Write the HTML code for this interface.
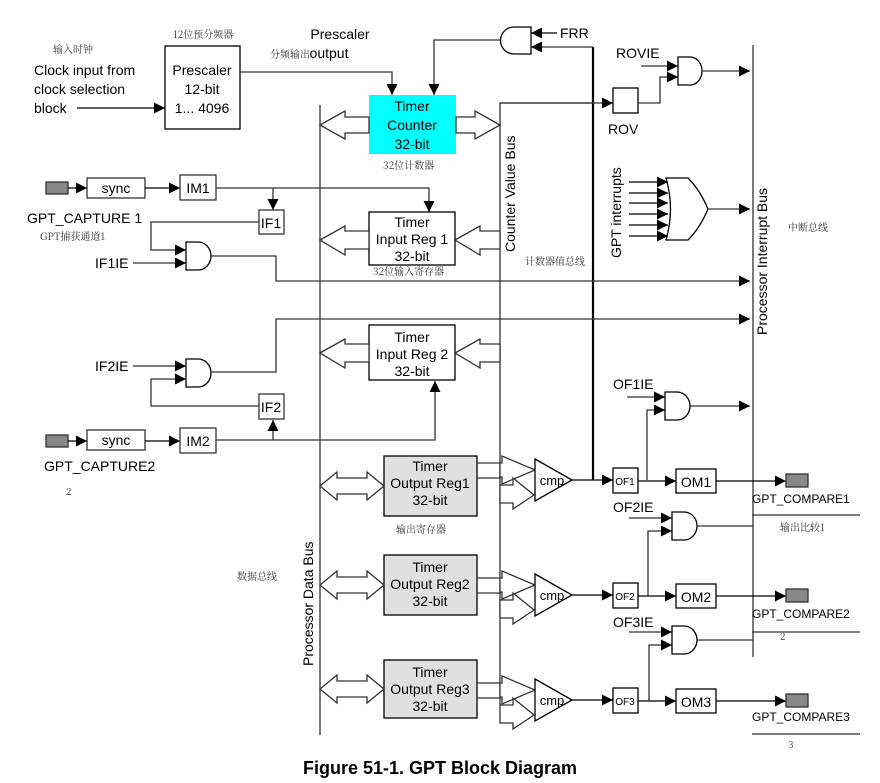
<!DOCTYPE html>
<html><head><meta charset="utf-8"><style>
html,body{margin:0;padding:0;background:#fff;}
svg{display:block;}
text{font-family:"Liberation Sans","Noto Sans CJK SC",sans-serif;fill:#000;}
.cn{font-family:"Noto Serif CJK SC","Noto Sans CJK SC",serif;font-size:10px;fill:#333;}
</style></head><body>
<svg width="880" height="783" viewBox="0 0 880 783" xmlns="http://www.w3.org/2000/svg">
<defs>
<marker id="b" viewBox="0 0 10 10" refX="10" refY="5" markerWidth="11" markerHeight="11" markerUnits="userSpaceOnUse" orient="auto"><path d="M0,0L10,5L0,10z" fill="#000"/></marker>
</defs>
<g fill="none" stroke="#333" stroke-width="1.3">
<line x1="320" y1="105" x2="320" y2="735"/>
<polyline points="500,705 500,103 593,103"/>
<line x1="593" y1="47" x2="593" y2="480" stroke="#000" stroke-width="2.2"/>
<line x1="753" y1="45" x2="753" y2="657"/>
<rect x="165" y="46" width="75" height="83" stroke="#000"/>
<line x1="77" y1="108" x2="165" y2="108" marker-end="url(#b)" stroke="#000"/>
<polyline points="240,72 392,72 392,95" marker-end="url(#b)"/>
<path d="M531,27 L514,27 A13.5,13.5 0 0 0 514,54 L531,54 Z" stroke="#000"/>
<line x1="557" y1="33" x2="531" y2="33" marker-end="url(#b)" stroke="#000"/>
<polyline points="593,47 531,47" marker-end="url(#b)"/>
<polyline points="500,40 434,40 434,95" marker-end="url(#b)"/>
<rect x="369" y="95" width="87" height="59" fill="#00ffff" stroke="none"/>
<polygon points="320,125 345,111 345,117 369,117 369,133 345,133 345,139" fill="#fff"/>
<polygon points="500,125 475,111 475,117 456,117 456,133 475,133 475,139" fill="#fff"/>
<rect x="46" y="182" width="22" height="12" fill="#888"/>
<line x1="68" y1="188" x2="87" y2="188" marker-end="url(#b)" stroke="#000"/>
<rect x="87" y="178" width="58" height="20"/>
<line x1="145" y1="188" x2="180" y2="188" marker-end="url(#b)" stroke="#000"/>
<rect x="180" y="175" width="36" height="25"/>
<polyline points="216,188 429,188 429,212" marker-end="url(#b)"/>
<line x1="273" y1="188" x2="273" y2="210" marker-end="url(#b)"/>
<rect x="259" y="210" width="25" height="24"/>
<polyline points="259,222 151,222 151,250 186,250" marker-end="url(#b)"/>
<line x1="133" y1="263" x2="186" y2="263" marker-end="url(#b)"/>
<path d="M186,242 L198,242 A13,14 0 0 1 198,270 L186,270 Z" stroke="#000"/>
<polyline points="211,256 276,256 276,281 750,281" marker-end="url(#b)"/>
<rect x="369" y="212" width="86" height="53" stroke="#000"/>
<polygon points="320,240 345,226 345,231 369,231 369,249 345,249 345,255" fill="#fff"/>
<polygon points="455,240 480,226 480,231 500,231 500,249 480,249 480,255" fill="#fff"/>
<rect x="369" y="325" width="86" height="55" stroke="#000"/>
<polygon points="320,353 345,339 345,344 369,344 369,362 345,362 345,368" fill="#fff"/>
<polygon points="455,353 480,339 480,344 500,344 500,362 480,362 480,368" fill="#fff"/>
<line x1="133" y1="366" x2="186" y2="366" marker-end="url(#b)"/>
<path d="M186,359 L198,359 A13,14 0 0 1 198,387 L186,387 Z" stroke="#000"/>
<polyline points="211,372 276,372 276,319 750,319" marker-end="url(#b)"/>
<rect x="259" y="394" width="25" height="25"/>
<polyline points="259,406 151,406 151,379 186,379" marker-end="url(#b)"/>
<rect x="46" y="435" width="22" height="12" fill="#888"/>
<line x1="68" y1="441" x2="87" y2="441" marker-end="url(#b)" stroke="#000"/>
<rect x="87" y="430" width="58" height="20"/>
<line x1="145" y1="441" x2="180" y2="441" marker-end="url(#b)" stroke="#000"/>
<rect x="180" y="428" width="36" height="25"/>
<polyline points="216,440 435,440 435,381" marker-end="url(#b)"/>
<line x1="273" y1="440" x2="273" y2="420" marker-end="url(#b)"/>
<polyline points="500,103 613,103" marker-end="url(#b)"/>
<rect x="613" y="88" width="25" height="25" stroke="#000"/>
<polyline points="638,103 660,103 660,77 678,77" marker-end="url(#b)"/>
<line x1="641" y1="66" x2="678" y2="66" marker-end="url(#b)"/>
<path d="M678,57 L690,57 A12,14 0 0 1 690,85 L678,85 Z" stroke="#000"/>
<line x1="702" y1="71" x2="750" y2="71" marker-end="url(#b)"/>
<g stroke="#000">
<line x1="629" y1="182" x2="668" y2="182" marker-end="url(#b)"/>
<line x1="629" y1="193" x2="668" y2="193" marker-end="url(#b)"/>
<line x1="629" y1="203" x2="668" y2="203" marker-end="url(#b)"/>
<line x1="629" y1="214" x2="668" y2="214" marker-end="url(#b)"/>
<line x1="629" y1="225" x2="668" y2="225" marker-end="url(#b)"/>
<line x1="629" y1="236" x2="668" y2="236" marker-end="url(#b)"/>
<path d="M666,178 L688,178 Q700,190 708,209 Q700,228 688,240 L666,240 Q675,209 666,178 Z"/>
</g>
<line x1="708" y1="209" x2="750" y2="209" marker-end="url(#b)"/>
<line x1="627" y1="397" x2="665" y2="397" marker-end="url(#b)"/>
<polyline points="647,480 647,410 665,410" marker-end="url(#b)"/>
<path d="M665,392 L677,392 A13,14 0 0 1 677,420 L665,420 Z" stroke="#000"/>
<line x1="690" y1="406" x2="750" y2="406" marker-end="url(#b)"/>
<!-- output registers -->
<rect x="384" y="456" width="93" height="60" fill="#e0e0e0" stroke="#000"/>
<polygon points="320,486 337,472 337,478 367,478 367,472 384,486 367,500 367,494 337,494 337,500" fill="#fff"/>
<rect x="384" y="555" width="93" height="60" fill="#e0e0e0" stroke="#000"/>
<polygon points="320,585 337,571 337,577 367,577 367,571 384,585 367,599 367,593 337,593 337,599" fill="#fff"/>
<rect x="384" y="660" width="93" height="58" fill="#e0e0e0" stroke="#000"/>
<polygon points="320,689 337,675 337,681 367,681 367,675 384,689 367,703 367,697 337,697 337,703" fill="#fff"/>
<g id="o1">
<polyline points="477,463 501,463"/><polyline points="477,478 501,478"/>
<polygon points="502,456 535,470 502,484 502,477 500,477 500,463 502,463" fill="#fff"/>
<polygon points="500,485 513,485 513,478 534,495 513,509 513,503 500,503" fill="#fff"/>
<polygon points="535,459 572,480 535,501" fill="#fff" stroke="#000"/>
<line x1="572" y1="480" x2="613" y2="480" marker-end="url(#b)" stroke="#000"/>
<rect x="613" y="468" width="25" height="25" stroke="#000"/>
<line x1="638" y1="481" x2="676" y2="481" marker-end="url(#b)" stroke="#000"/>
<rect x="676" y="469" width="40" height="24" stroke="#000"/>
<line x1="716" y1="481" x2="786" y2="481" marker-end="url(#b)" stroke="#000"/>
<rect x="786" y="474" width="22" height="13" fill="#888"/>
</g>
<line x1="752" y1="515" x2="860" y2="515"/>
<use href="#o1" transform="translate(0,115)"/>
<line x1="752" y1="632" x2="860" y2="632"/>
<use href="#o1" transform="translate(0,220)"/>
<line x1="752" y1="734" x2="860" y2="734"/>
<line x1="629" y1="518" x2="672" y2="518" marker-end="url(#b)"/>
<polyline points="648,596 648,531 672,531" marker-end="url(#b)"/>
<path d="M672,512 L684,512 A13,14 0 0 1 684,540 L672,540 Z" stroke="#000"/>
<line x1="697" y1="526" x2="753" y2="526"/>
<line x1="629" y1="632" x2="672" y2="632" marker-end="url(#b)"/>
<polyline points="649,701 649,645 672,645" marker-end="url(#b)"/>
<path d="M672,626 L684,626 A13,14 0 0 1 684,654 L672,654 Z" stroke="#000"/>
<line x1="697" y1="640" x2="753" y2="640"/>
</g>
<text class="cn" x="173" y="38">12位预分频器</text>
<text class="cn" x="53" y="53">输入时钟</text>
<text x="34" y="75" font-size="14">Clock input from</text>
<text x="34" y="94" font-size="14">clock selection</text>
<text x="34" y="113" font-size="14">block</text>
<g font-size="14" text-anchor="middle">
<text x="202" y="75">Prescaler</text><text x="202" y="94">12-bit</text><text x="202" y="113">1...  4096</text>
<text x="340" y="39">Prescaler</text><text x="329" y="58">output</text>
<text x="412" y="111">Timer</text><text x="412" y="130">Counter</text><text x="412" y="149">32-bit</text>
<text x="412" y="227">Timer</text><text x="412" y="244">Input Reg 1</text><text x="412" y="261">32-bit</text>
<text x="412" y="342">Timer</text><text x="412" y="359">Input Reg 2</text><text x="412" y="376">32-bit</text>
<text x="116" y="193">sync</text><text x="198" y="193">IM1</text><text x="271" y="228">IF1</text>
<text x="116" y="445">sync</text><text x="198" y="446">IM2</text><text x="271" y="412">IF2</text>
</g>
<text class="cn" x="270" y="58">分频输出</text>
<text class="cn" x="383" y="169">32位计数器</text>
<text class="cn" x="373" y="275">32位输入寄存器</text>
<text class="cn" x="40" y="240">GPT捕获通道1</text>
<text class="cn" x="525" y="265">计数器值总线</text>
<text class="cn" x="788" y="231">中断总线</text>
<text class="cn" x="237" y="580">数据总线</text>
<text class="cn" x="396" y="533">输出寄存器</text>
<text class="cn" x="780" y="531">输出比较1</text>
<text class="cn" x="780" y="640">2</text>
<text class="cn" x="788" y="748">3</text>
<text class="cn" x="66" y="495">2</text>
<text x="27" y="223" font-size="14">GPT_CAPTURE 1</text>
<text x="95" y="268" font-size="14">IF1IE</text>
<text x="95" y="371" font-size="14">IF2IE</text>
<text x="44" y="471" font-size="14">GPT_CAPTURE2</text>
<text x="560" y="38" font-size="14">FRR</text>
<text x="616" y="58" font-size="14">ROVIE</text>
<text x="608" y="134" font-size="14">ROV</text>
<text x="613" y="389" font-size="14">OF1IE</text>
<text x="613" y="512" font-size="14">OF2IE</text>
<text x="613" y="627" font-size="14">OF3IE</text>
<text font-size="14" transform="translate(515,252) rotate(-90)">Counter Value Bus</text>
<text font-size="14" transform="translate(767,335) rotate(-90)">Processor Interrupt Bus</text>
<text font-size="14" transform="translate(621,258) rotate(-90)">GPT interrupts</text>
<text font-size="14" transform="translate(313,666) rotate(-90)">Processor Data Bus</text>
<g font-size="14" text-anchor="middle">
<text x="430" y="471">Timer</text><text x="430" y="488">Output Reg1</text><text x="430" y="505">32-bit</text>
<text x="430" y="572">Timer</text><text x="430" y="589">Output Reg2</text><text x="430" y="606">32-bit</text>
<text x="430" y="677">Timer</text><text x="430" y="694">Output Reg3</text><text x="430" y="711">32-bit</text>
<text x="696" y="487">OM1</text><text x="696" y="602">OM2</text><text x="696" y="707">OM3</text>
<text x="552" y="485" font-size="13">cmp</text><text x="552" y="600" font-size="13">cmp</text><text x="552" y="705" font-size="13">cmp</text>
</g>
<g font-size="10" text-anchor="middle">
<text x="625" y="485">OF1</text><text x="625" y="600">OF2</text><text x="625" y="705">OF3</text>
</g>
<g font-size="12">
<text x="752" y="503">GPT_COMPARE1</text><text x="752" y="618">GPT_COMPARE2</text><text x="752" y="721">GPT_COMPARE3</text>
</g>
<text x="440" y="774" font-size="18" font-weight="bold" text-anchor="middle">Figure 51-1. GPT Block Diagram</text>
</svg>
</body></html>
